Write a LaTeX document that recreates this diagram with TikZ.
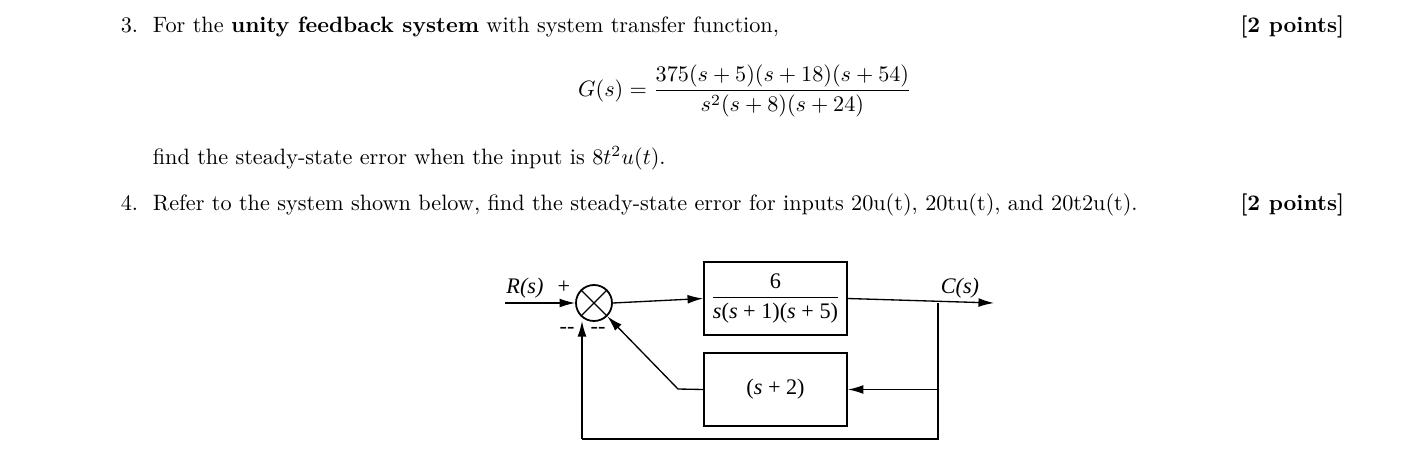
\documentclass[tikz,border=0pt]{standalone}
\usepackage{amsmath}
\usepackage{fontspec}
\newfontfamily\dgfont{Liberation Serif}
\usetikzlibrary{arrows.meta}
\begin{document}
\begin{tikzpicture}[x=0.45pt,y=-0.45pt,
  blk/.style={draw,line width=0.8pt,minimum width=143*0.45pt,minimum height=73*0.45pt,inner sep=0pt,font=\dgfont},
  con/.style={line width=0.6pt},
  arr/.style={con,-{Latex[length=7pt,width=4pt]}},
  lbl/.style={font=\dgfont\itshape}]
\useasboundingbox (0,0) rectangle (1407,469);
\node[anchor=west] (q3) at (113,27) {3.\ \ For the \textbf{unity feedback system} with system transfer function,};
\node[anchor=east] (p3) at (1352,27) {\textbf{[2 points]}};
\node (eq) at (745,91) {$\displaystyle G(s)=\frac{375(s+5)(s+18)(s+54)}{s^2(s+8)(s+24)}$};
\node[anchor=west] (f3) at (145,158) {find the steady-state error when the input is $8t^2u(t)$.};
\node[anchor=west] (q4) at (113,205) {4.\ \ Refer to the system shown below, find the steady-state error for inputs 20u(t), 20tu(t), and 20t2u(t).};
\node[anchor=east] (p4) at (1352,205) {\textbf{[2 points]}};
% diagram
\node[draw,circle,line width=0.8pt,minimum size=36*0.45pt,inner sep=0pt] (sum) at (594,303) {};
\draw[con] (sum.north west) -- (sum.south east) (sum.north east) -- (sum.south west);
\node[blk] (g) at (775.5,298.5) {$\dfrac{\text{6}}{\textit{s}\text{(}\textit{s}\text{ + 1)(}\textit{s}\text{ + 5)}}$};
\node[blk] (h) at (775.5,389.5) {(\textit{s} + 2)};
\coordinate (in) at (505,303);
\coordinate (br) at (938,303);
\coordinate (out) at (994,303);
\coordinate (hl) at (678,389);
\coordinate (lb) at (582,439);
\coordinate (rb) at (938,439);
\coordinate (lt) at (582,321);
\draw[arr] (in) -- (sum.west);
\draw[arr] (sum.east) -- (g.west);
\draw[arr] (g.east) -- (out);
\draw[arr] (br) |- (h.east);
\draw[con] (br) -- (rb) -- (lb);
\draw[arr] (lb) -- (lt);
\draw[arr] (h.west) -- (hl) -- (sum.south east);
\node[lbl] (R) at (525,288) {R(s)};
\node[lbl] (C) at (960,288) {C(s)};
\node[font=\dgfont] (pl) at (564,287) {+};
\node[font=\dgfont] (m1) at (567,330) {--};
\node[font=\dgfont] (m2) at (598,330) {--};
\end{tikzpicture}
\end{document}
